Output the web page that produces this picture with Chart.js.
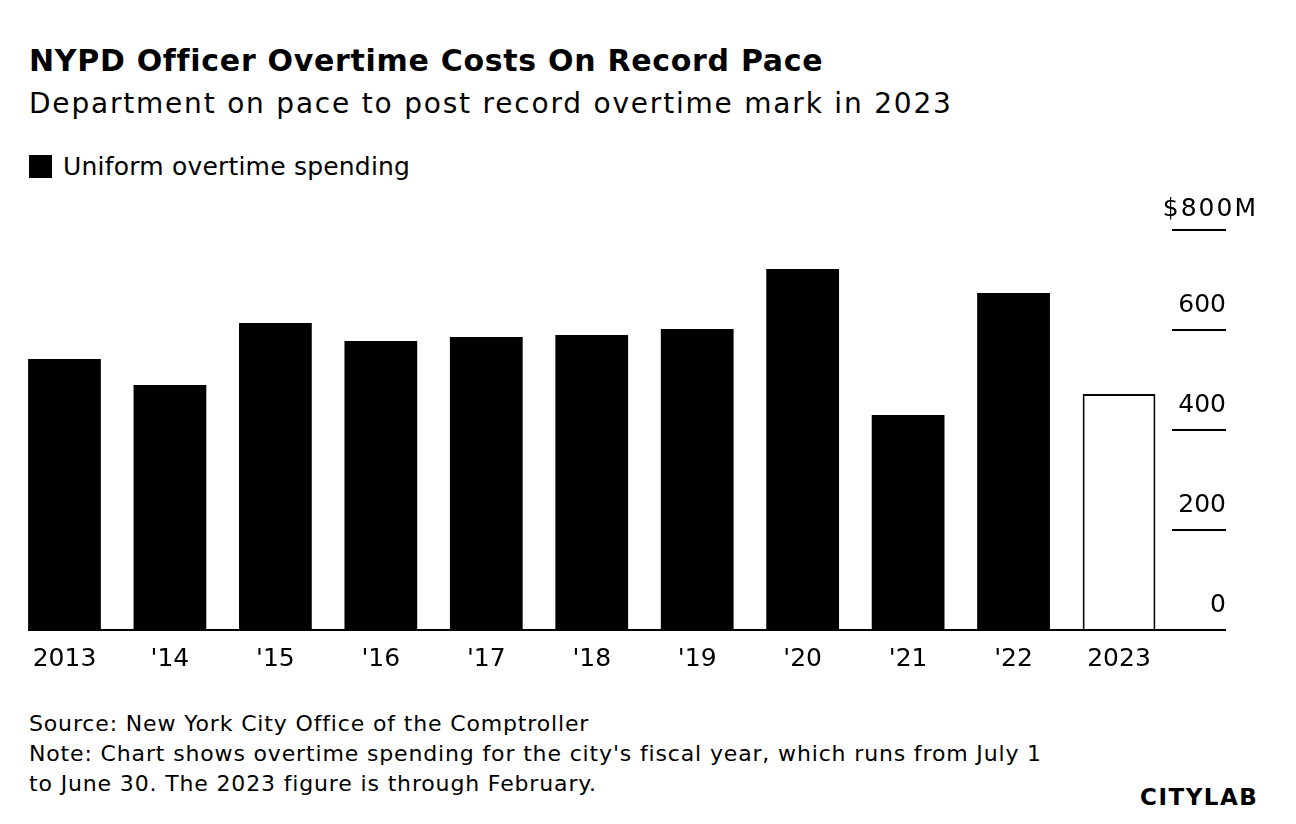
<!DOCTYPE html>
<html><head><meta charset="utf-8">
<script src="https://cdn.jsdelivr.net/npm/chart.js@4"></script>
<style>
body{margin:0;background:#fff;width:1296px;height:824px;overflow:hidden;font-family:"DejaVu Sans",sans-serif;color:#000;position:relative}
.t{position:absolute;left:29px;white-space:nowrap}
#c{position:absolute;left:0;top:0}
</style></head><body>
<div class="t" style="top:43px;font-size:30px;font-weight:700;letter-spacing:0.7px">NYPD Officer Overtime Costs On Record Pace</div>
<div class="t" style="top:87px;font-size:28px;letter-spacing:1.8px">Department on pace to post record overtime mark in 2023</div>
<div class="t" style="top:152px;font-size:25px;letter-spacing:0.2px"><span style="display:inline-block;width:23px;height:23px;background:#000;vertical-align:-3px;margin-right:11px"></span>Uniform overtime spending</div>
<div class="t" style="top:709px;font-size:22px;line-height:30px;letter-spacing:0.85px">Source: New York City Office of the Comptroller<br>Note: Chart shows overtime spending for the city's fiscal year, which runs from July 1<br>to June 30. The 2023 figure is through February.</div>
<div class="t" style="left:1140px;top:784px;font-size:23px;font-weight:900;letter-spacing:1.5px">CITYLAB</div>
<canvas id="c" width="1296" height="824"></canvas>
<script>
const categories=["2013","'14","'15","'16","'17","'18","'19","'20","'21","'22","2023"];
const values=[542,490,614,578,586,590,602,722,430,674,472];
const yTicks=[0,200,400,600,800];
const yLabels=["0","200","400","600","$800M"];
const deco={id:'deco',afterDraw(ch){
 const c=ch.ctx,y=ch.scales.y,x=ch.scales.x;
 c.save();c.fillStyle='#000';c.strokeStyle='#000';
 c.font='25px "DejaVu Sans", sans-serif';
 c.textAlign='right';c.textBaseline='alphabetic';
 yTicks.forEach((v,i)=>{const p=y.getPixelForValue(v);
  if(v>0){c.lineWidth=2;c.beginPath();c.moveTo(1172,p);c.lineTo(1226,p);c.stroke();}
  if(v===800){c.letterSpacing='2px';c.fillText(yLabels[i],1258,p-14);c.letterSpacing='0px';}
  else c.fillText(yLabels[i],1226,p-18);});
 c.lineWidth=2;c.beginPath();const b=y.getPixelForValue(0);c.moveTo(28,b);c.lineTo(1226,b);c.stroke();
 c.textAlign='center';c.textBaseline='middle';
 categories.forEach((l,i)=>c.fillText(l,x.getPixelForValue(i),659));
 c.restore();}};
new Chart(document.getElementById('c'),{type:'bar',
 data:{labels:categories,datasets:[{data:values,
  backgroundColor:values.map((v,i)=>i===values.length-1?'#fff':'#000'),
  borderColor:'#000',borderWidth:values.map((v,i)=>i===values.length-1?2:0),
  categoryPercentage:1,barPercentage:0.69}]},
 options:{responsive:false,animation:false,
  layout:{padding:{left:11.75,right:124.25,top:230,bottom:194}},
  plugins:{legend:{display:false},tooltip:{enabled:false}},
  scales:{x:{display:false},y:{display:false,min:0,max:800}}},
 plugins:[deco]});
</script></body></html>
